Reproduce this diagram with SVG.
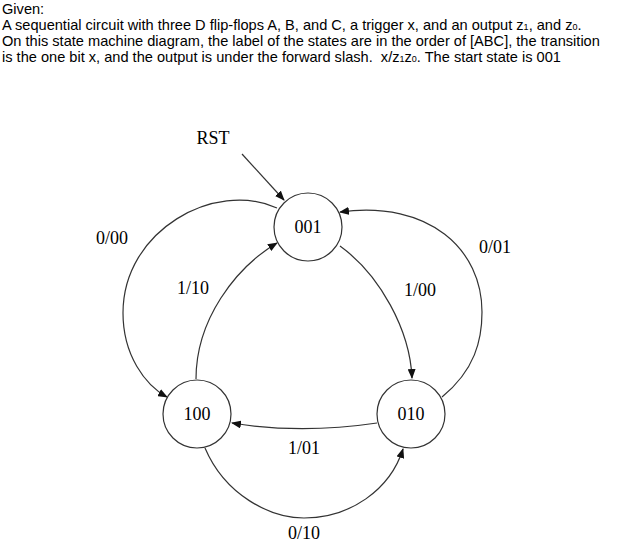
<svg xmlns="http://www.w3.org/2000/svg" width="622" height="551" viewBox="0 0 622 551">
<style>
.h{font-family:"Liberation Sans",Arial,sans-serif;font-size:14.6px;fill:#000;white-space:pre}
.s{font-size:9px}
.t{font-family:"Liberation Serif","Times New Roman",serif;font-size:18px;fill:#000;text-anchor:middle}
.n{fill:#fff;stroke:#333;stroke-width:1.2}
.e{fill:none;stroke:#333;stroke-width:1.2;marker-end:url(#a)}
</style>
<defs><marker id="a" markerWidth="10" markerHeight="8" refX="9" refY="4" orient="auto" markerUnits="userSpaceOnUse"><path d="M0,0 L10,4 L0,8z" fill="#111"/></marker></defs>
<rect width="622" height="551" fill="#fff"/>
<g id="header">
<text class="h" x="2" y="14">Given:</text>
<text class="h" x="2" y="30">A sequential circuit with three D flip-flops A, B, and C, a trigger x, and an output z<tspan class="s">1</tspan>, and z<tspan class="s">0</tspan>.</text>
<text class="h" x="2" y="46">On this state machine diagram, the label of the states are in the order of [ABC], the transition</text>
<text class="h" x="2" y="62" xml:space="preserve">is the one bit x, and the output is under the forward slash.  x/z<tspan class="s">1</tspan>z<tspan class="s">0</tspan>. The start state is 001</text>
</g>
<g id="connectors">
<path class="e" d="M242,154 L284,200"/>
<path class="e" d="M277,208 C215,180 123,230 123,313 C123,355 145,385 167,397"/>
<path class="e" d="M196,379 C196,320 235,268 277,243"/>
<path class="e" d="M340,246 C380,275 410,330 412,378"/>
<path class="e" d="M442,397 C475,370 482,340 482,312 C482,250 430,200 340,212"/>
<path class="e" d="M377,423 C330,430 280,431 232,423"/>
<path class="e" d="M205,448 C225,495 270,518 304,518 C350,518 390,490 403,449"/>
</g>
<g id="n001"><circle class="n" cx="308" cy="227" r="34"/><text class="t" x="308" y="233">001</text></g>
<g id="n100"><circle class="n" cx="197" cy="414" r="34"/><text class="t" x="197" y="420">100</text></g>
<g id="n010"><circle class="n" cx="411" cy="414" r="34"/><text class="t" x="411" y="420">010</text></g>
<g id="labels">
<text class="t" x="213" y="144">RST</text>
<text class="t" x="112" y="244">0/00</text>
<text class="t" x="193" y="294">1/10</text>
<text class="t" x="420" y="296">1/00</text>
<text class="t" x="495" y="253">0/01</text>
<text class="t" x="304" y="454">1/01</text>
<text class="t" x="304" y="539">0/10</text>
</g>
</svg>
